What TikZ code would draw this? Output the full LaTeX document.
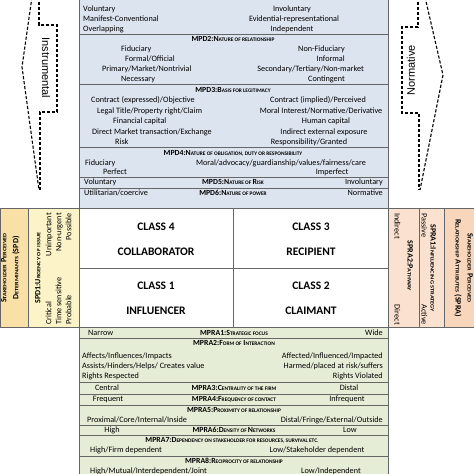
\documentclass[tikz,border=0pt]{standalone}
\usepackage{fontspec}
\setmainfont{Carlito}
\newfontfamily\arialfont{Liberation Sans}

\definecolor{mpdblue}{HTML}{DCE4EF}
\definecolor{mpragreen}{HTML}{E6EDD6}
\definecolor{spdouter}{HTML}{F8E0A6}
\definecolor{spdinner}{HTML}{FCF4C8}
\definecolor{spraouter}{HTML}{F8D6BC}
\definecolor{sprainner}{HTML}{FBE2D0}

% small caps made by hand
\newcommand\smc[1]{{\fontsize{5.4}{6}\selectfont\MakeUppercase{#1}}}
\newcommand\smcside[1]{\scalebox{1}[0.8]{\fontsize{6.3}{7}\selectfont\MakeUppercase{#1}}}

\begin{document}
\begin{tikzpicture}[
        x=1pt, y=-1pt,
        every node/.style={font=\fontsize{8.2}{10}\selectfont},
        lt/.style={anchor=mid west, inner sep=0pt},
        rt/.style={anchor=mid east, inner sep=0pt},
        ct/.style={anchor=mid, inner sep=0pt},
        hdr/.style={anchor=mid, inner sep=0pt, font=\fontsize{7.8}{12}\selectfont\bfseries},
        cls/.style={anchor=mid, inner sep=0pt, font=\fontsize{11.5}{13}\selectfont\bfseries},
        rowline/.style={draw=black!60, line width=0.9pt},
        arrowline/.style={draw, line width=1.1pt, dash pattern=on 3.2pt off 1.8pt},
        side/.style={font=\arialfont\fontsize{11}{13}\selectfont, inner sep=0pt},
    ]
    \useasboundingbox (0,0) rectangle (474,474);

    % backgrounds
    \fill[mpdblue] (79,-3) rectangle (388,208);
    \fill[mpragreen] (79,327) rectangle (388,477);
    \fill[spdouter] (0,208) rectangle (28,327);
    \fill[spdinner] (28,208) rectangle (79,327);
    \fill[sprainner] (388,208) rectangle (444,327);
    \fill[spraouter] (444,208) rectangle (474,327);

    % table lines
    \draw[rowline] (79,-3) rectangle (388,208);
    \foreach \y in {34,84,147.5,177,188}
        \draw[rowline] (79,\y) -- (388,\y);
    \draw[rowline] (79,208) rectangle (388,327);
    \draw[rowline] (79,268) -- (388,268);
    \draw[rowline] (233.5,208) -- (233.5,327);
    \draw[rowline] (0,208) rectangle (79,327);
    \draw[rowline] (28,208) -- (28,327);
    \draw[rowline] (388,208) rectangle (474,327);
    \draw[rowline] (419,208) -- (419,327);
    \draw[rowline] (444,208) -- (444,327);
    \draw[rowline] (79,327) rectangle (388,477);
    \foreach \y in {338,382,394,405,425,435,456}
        \draw[rowline] (79,\y) -- (388,\y);

    % MPD1
    \node[lt] (vol) at (83,9) {Voluntary};
    \node[lt] (mani) at (83,19.5) {Manifest-Conventional};
    \node[lt] (over) at (83,29.5) {Overlapping};
    \node[ct] (invol) at (292,9) {Involuntary};
    \node[ct] (evid) at (294,19.5) {Evidential-representational};
    \node[ct] (indep) at (292,29.5) {Independent};

    % MPD2
    \node[hdr] (mpd2) at (233,39.5) {MPD2:N\smc{ature of relationship}};
    \node[lt] (fid) at (121,49.5) {Fiduciary};
    \node[lt] (formal) at (125,59.5) {Formal/Official};
    \node[lt] (prim) at (102,69.5) {Primary/Market/Nontrivial};
    \node[lt] (nec) at (121,79.5) {Necessary};
    \node[rt] (nonfid) at (345,49.5) {Non-Fiduciary};
    \node[rt] (inform) at (345,59.5) {Informal};
    \node[rt] (second) at (364,69.5) {Secondary/Tertiary/Non-market};
    \node[rt] (conting) at (345,79.5) {Contingent};

    % MPD3
    \node[hdr] (mpd3) at (233,90) {MPD3:B\smc{asis for legitimacy}};
    \node[lt] (cexp) at (91,100.5) {Contract (expressed)/Objective};
    \node[lt] (legal) at (97,111) {Legal Title/Property right/Claim};
    \node[lt] (fincap) at (113,121.5) {Financial capital};
    \node[lt] (dirmkt) at (92,132) {Direct Market transaction/Exchange};
    \node[lt] (risk) at (115,142.5) {Risk};
    \node[ct] (cimp) at (318,100.5) {Contract (implied)/Perceived};
    \node[ct] (moral) at (321,111) {Moral Interest/Normative/Derivative};
    \node[ct] (humcap) at (326,121.5) {Human capital};
    \node[ct] (indext) at (324,132) {Indirect external exposure};
    \node[ct] (resp) at (309,142.5) {Responsibility/Granted};

    % MPD4 - MPD6
    \node[hdr] (mpd4) at (233,153) {MPD4:N\smc{ature of obligation, duty or responsibility}};
    \node[lt] (fid4) at (85,163) {Fiduciary};
    \node[lt] (perf) at (103,172.5) {Perfect};
    \node[ct] (moral4) at (281,163) {Moral/advocacy/guardianship/values/fairness/care};
    \node[ct] (imperf) at (332,172.5) {Imperfect};
    \node[lt] (vol5) at (84,182.5) {Voluntary};
    \node[hdr] (mpd5) at (233,182.5) {MPD5:N\smc{ature of }R\smc{isk}};
    \node[rt] (invol5) at (383,182.5) {Involuntary};
    \node[lt] (util) at (84,193.5) {Utilitarian/coercive};
    \node[hdr] (mpd6) at (233,193.5) {MPD6:N\smc{ature of power}};
    \node[rt] (norm6) at (383,193.5) {Normative};

    % classes
    \node[cls] (c4) at (156,228) {CLASS 4};
    \node[cls] (collab) at (156,253) {COLLABORATOR};
    \node[cls] (c3) at (311,228) {CLASS 3};
    \node[cls] (recip) at (311,253) {RECIPIENT};
    \node[cls] (c1) at (156,287) {CLASS 1};
    \node[cls] (infl) at (156,312) {INFLUENCER};
    \node[cls] (c2) at (311,287) {CLASS 2};
    \node[cls] (claim) at (311,312) {CLAIMANT};

    % SPD
    \node[hdr, font=\fontsize{8}{12}\selectfont\bfseries, rotate=90, align=center] (spd) at (16,268) {S\smcside{takeholder} P\smcside{erceived}\\D\smcside{eterminants} (SPD)};
    \node[hdr, font=\fontsize{8}{12}\selectfont\bfseries, rotate=90] (spd1) at (38,268) {SPD1:U\smcside{rgency of issue}};
    \node[rt, rotate=90] (unimp) at (49,213) {Unimportant};
    \node[rt, rotate=90] (nonurg) at (59,213) {Non-urgent};
    \node[rt, rotate=90] (possib) at (69,213) {Possible};
    \node[lt, rotate=90] (crit) at (49,325) {Critical};
    \node[lt, rotate=90] (timesens) at (59,325) {Time sensitive};
    \node[lt, rotate=90] (probab) at (69,325) {Probable};

    % SPRA
    \node[lt, rotate=-90] (indir) at (397,213) {Indirect};
    \node[hdr, font=\fontsize{8}{12}\selectfont\bfseries, rotate=-90] (spra2) at (410,266) {SPRA2:P\smcside{athway}};
    \node[rt, rotate=-90] (direct) at (397,325) {Direct};
    \node[lt, rotate=-90] (passive) at (424,213) {Passive};
    \node[hdr, font=\fontsize{8}{12}\selectfont\bfseries, rotate=-90] (spra1) at (433,268) {SPRA1:I\smcside{nfluencing strategy}};
    \node[rt, rotate=-90] (active) at (424,325) {Active};
    \node[hdr, font=\fontsize{8}{12}\selectfont\bfseries, rotate=-90, align=center] (spra) at (458,268) {S\smcside{takeholder} P\smcside{erceived}\\R\smcside{elationship} A\smcside{ttributes} (SPRA)};

    % MPRA
    \node[lt] (narrow) at (88,333) {Narrow};
    \node[hdr] (mpra1) at (234,333) {MPRA1:S\smc{trategic focus}};
    \node[rt] (wide) at (383,333) {Wide};
    \node[hdr] (mpra2) at (234,343.5) {MPRA2:F\smc{orm of} I\smc{nteraction}};
    \node[lt] (affects) at (82,356.5) {Affects/Influences/Impacts};
    \node[lt] (assists) at (82,366.5) {Assists/Hinders/Helps/ Creates value};
    \node[lt] (rresp) at (82,376.5) {Rights Respected};
    \node[rt] (affected) at (383,356.5) {Affected/Influenced/Impacted};
    \node[rt] (harmed) at (383,366.5) {Harmed/placed at risk/suffers};
    \node[rt] (rviol) at (383,376.5) {Rights Violated};
    \node[ct] (central) at (107,388) {Central};
    \node[hdr] (mpra3) at (234,388) {MPRA3:C\smc{entrality of the firm}};
    \node[ct] (distal) at (349,388) {Distal};
    \node[ct] (freq) at (108,399.5) {Frequent};
    \node[hdr] (mpra4) at (234,399.5) {MPRA4:F\smc{requency of contact}};
    \node[ct] (infreq) at (347,399.5) {Infrequent};
    \node[hdr] (mpra5) at (234,410) {MPRA5:P\smc{roximity of relationship}};
    \node[lt] (proximal) at (87,420) {Proximal/Core/Internal/Inside};
    \node[rt] (distal5) at (383,420) {Distal/Fringe/External/Outside};
    \node[ct] (high) at (112,430) {High};
    \node[hdr] (mpra6) at (234,430) {MPRA6:D\smc{ensity of }N\smc{etworks}};
    \node[ct] (low) at (350,430) {Low};
    \node[hdr] (mpra7) at (232,440.5) {MPRA7:D\smc{ependency on stakeholder for resources, survival etc.}};
    \node[lt] (highfirm) at (90,450.5) {High/Firm dependent};
    \node[ct] (lowstake) at (317,450.5) {Low/Stakeholder dependent};
    \node[hdr] (mpra8) at (234,461) {MPRA8:R\smc{eciprocity of relationship}};
    \node[lt] (highmut) at (90,471) {High/Mutual/Interdependent/Joint};
    \node[ct] (lowind) at (331,471) {Low/Independent};

    % side arrows
    \draw[arrowline] (32,-3) -- (22,67) -- (39,190);
    \draw[arrowline] (39,-3) -- (39,25) -- (57,25) -- (57,112) -- (40,112) -- (40,190);
    \node[side, rotate=-90] (instr) at (46,68) {Instrumental};
    \draw[arrowline] (425,-3) -- (443,75) -- (420,190);
    \draw[arrowline] (418,-3) -- (418,27) -- (402,27) -- (402,113) -- (419,113) -- (419,190);
    \node[side, rotate=90] (normat) at (411,70) {Normative};
\end{tikzpicture}
\end{document}
